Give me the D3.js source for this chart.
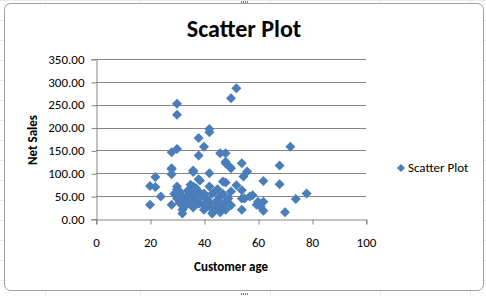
<!DOCTYPE html>
<html><head><meta charset="utf-8">
<script src="https://cdn.jsdelivr.net/npm/d3@7/dist/d3.min.js"></script>
<style>body{margin:0;background:#fff}svg{display:block}</style>
</head><body><svg id="c" width="486" height="296"></svg>
<script>
const title = "Scatter Plot";
const xTitle = "Customer age";
const yTitle = "Net Sales";
const seriesName = "Scatter Plot";
const xTicks = [0, 20, 40, 60, 80, 100];
const yTicks = [0, 50, 100, 150, 200, 250, 300, 350];
const ages = [20, 22, 22, 24, 20, 30, 30, 28, 30, 28, 28, 28, 32, 32, 38, 40, 38, 42, 42, 36, 36, 42, 38, 36,
  50, 52, 72, 68, 68, 74, 78, 70, 62, 54, 56, 54.6, 52, 48, 48, 46, 48, 49.6, 50, 54, 54, 57, 58, 60, 62, 61, 62, 54, 55, 59.5,
  28, 38.5, 40, 30, 31, 33.6, 36, 35, 38, 40, 47, 42, 40, 46, 44.7, 43.5, 48, 38.5, 48,
  30, 31, 32, 33, 32, 30, 34, 35, 34, 36, 37, 38, 39, 41, 42, 43, 44, 45, 46, 47, 44, 42, 40, 36, 33, 31, 29, 35, 37, 45, 47, 49, 50, 50, 48, 46, 43];
const sales = [72, 92, 70, 49, 31, 252, 228, 146, 153, 109, 98, 31, 12, 20, 177, 158, 139, 197, 190, 106, 103, 100, 87, 71,
  264, 286, 158, 117, 76, 44, 56, 15, 83, 122, 104, 93, 74, 80, 144, 144, 122, 114, 111, 63, 45, 49, 52, 38, 38, 27, 18, 20, 45, 31,
  111, 84, 56, 71, 60, 49, 56, 34, 34, 20, 82, 71, 49, 49, 34, 16, 38, 35, 125,
  65, 58, 50, 45, 40, 45, 62, 55, 40, 48, 42, 60, 52, 45, 38, 55, 60, 42, 30, 25, 22, 28, 30, 25, 28, 35, 55, 75, 68, 65, 55, 45, 30, 60, 20, 15, 12];

const svg = d3.select("#c");
const font = "Carlito, Calibri, 'Open Sans', Lato, sans-serif";

// spreadsheet background grid
const bg = svg.append("g");
[0, 20, 40, 60, 80, 100, 120, 140, 160, 180, 200, 220, 240, 260, 280].forEach(y => {
  bg.append("line").attr("x1", 0).attr("x2", 486).attr("y1", y + 0.5).attr("y2", y + 0.5).attr("stroke", "#e6e9ee");
});
[45, 140, 270, 380, 470].forEach(x => {
  bg.append("line").attr("x1", x + 0.5).attr("x2", x + 0.5).attr("y1", 0).attr("y2", 296).attr("stroke", "#e6e9ee");
});
svg.append("rect").attr("x", 4.5).attr("y", 3.5).attr("width", 479).attr("height", 287)
  .attr("rx", 6).attr("fill", "#fff").attr("stroke", "#a0a0a0");
// handles
[[241, 1], [241, 293]].forEach(([x, y]) => {
  for (let i = 0; i < 4; i++) svg.append("rect").attr("x", x + i * 2).attr("y", y).attr("width", 1).attr("height", 2).attr("fill", "#777");
});

const x = d3.scaleLinear().domain([0, 100]).range([96, 366]);
const y = d3.scaleLinear().domain([0, 350]).range([219, 59]);

// gridlines
svg.append("g").selectAll("line").data(yTicks.slice(1)).join("line")
  .attr("x1", 96).attr("x2", 366).attr("y1", d => Math.round(y(d)) + 0.5).attr("y2", d => Math.round(y(d)) + 0.5)
  .attr("stroke", "#868686");

const yAxis = svg.append("g").attr("transform", "translate(96.5,0)")
  .call(d3.axisLeft(y).tickValues(yTicks).tickSize(5).tickPadding(7).tickFormat(d3.format(".2f")));
const xAxis = svg.append("g").attr("transform", "translate(0,219.5)")
  .call(d3.axisBottom(x).tickValues(xTicks).tickSize(5).tickPadding(13));
[yAxis, xAxis].forEach(a => {
  a.select(".domain").attr("stroke", "#868686");
  a.selectAll(".tick line").attr("stroke", "#868686");
  a.selectAll("text").attr("font-family", font).attr("font-size", 13).attr("fill", "#000");
});
yAxis.selectAll(".tick line").attr("transform", "translate(0,0.5)");
xAxis.selectAll(".tick line").attr("transform", "translate(0.5,0)");

const diamond = "M0,-5L5,0L0,5L-5,0Z";
svg.append("g").selectAll("path").data(ages.map((a, i) => [a, sales[i]])).join("path")
  .attr("d", diamond).attr("transform", d => `translate(${x(d[0])},${y(d[1])})`)
  .attr("fill", "#4a7ebb");

svg.append("text").attr("x", 244).attr("y", 37).attr("text-anchor", "middle")
  .attr("font-family", font).attr("font-weight", "bold").attr("font-size", 24).text(title);
svg.append("text").attr("x", 231).attr("y", 271).attr("text-anchor", "middle")
  .attr("font-family", font).attr("font-weight", "bold").attr("font-size", 13).text(xTitle);
svg.append("text").attr("transform", "translate(37,140) rotate(-90)").attr("text-anchor", "middle")
  .attr("font-family", font).attr("font-weight", "bold").attr("font-size", 13).text(yTitle);

svg.append("path").attr("d", "M0,-4L4,0L0,4L-4,0Z").attr("transform", "translate(401,168)").attr("fill", "#4a7ebb");
svg.append("text").attr("x", 408).attr("y", 172).attr("font-family", font).attr("font-size", 13).text(seriesName);
</script></body></html>
